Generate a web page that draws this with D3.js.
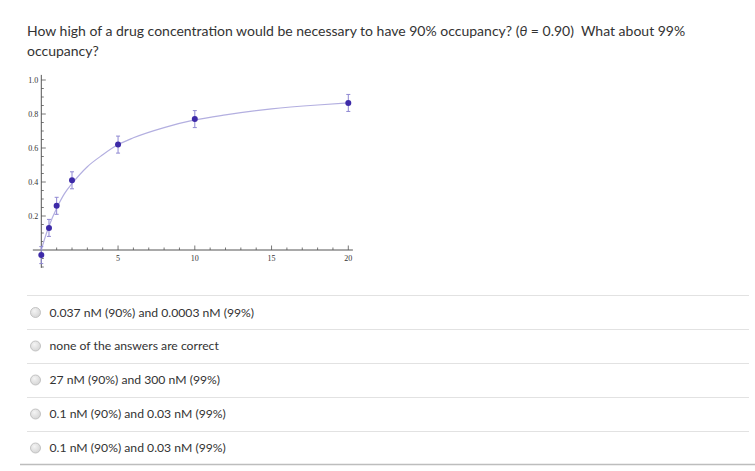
<!DOCTYPE html>
<html><head><meta charset="utf-8">
<script src="https://cdn.jsdelivr.net/npm/d3@7/dist/d3.min.js"></script>
<style>
html,body{margin:0;padding:0;background:#fff;}
svg{display:block;}
</style></head>
<body>
<svg id="c" width="755" height="471"></svg>
<script>
// ---- data ----
const questionLine1 = ["How high of a drug concentration would be necessary to have 90% occupancy? (", "\u03B8", " = 0.90)  What about 99%"];
const questionLine2 = "occupancy?";
const concentrations = [0, 0.5, 1, 2, 5, 10, 20];
const occupancy = [-0.03, 0.13, 0.26, 0.41, 0.62, 0.77, 0.865];
const errors = [0.05, 0.05, 0.05, 0.05, 0.05, 0.05, 0.05];
const curveX = [0, 0.25, 0.5, 1, 1.5, 2, 3, 4, 5, 6, 8, 10, 12, 15, 18, 20];
const curveY = [0, 0.075, 0.14, 0.245, 0.33, 0.39, 0.49, 0.56, 0.62, 0.66, 0.72, 0.765, 0.795, 0.83, 0.853, 0.865];
const xTickLabels = [5, 10, 15, 20];
const yTickLabels = [0.2, 0.4, 0.6, 0.8, 1.0];
const answers = [
  "0.037 nM (90%) and 0.0003 nM (99%)",
  "none of the answers are correct",
  "27 nM (90%) and 300 nM (99%)",
  "0.1 nM (90%) and 0.03 nM (99%)",
  "0.1 nM (90%) and 0.03 nM (99%)"
];

const svg = d3.select("#c");

// ---- question text ----
const t1 = svg.append("text").attr("x", 27).attr("y", 36)
  .attr("font-family","Lato").attr("font-size",14).attr("fill","#333")
  .attr("xml:space","preserve").style("white-space","pre");
t1.selectAll("tspan").data(questionLine1).join("tspan")
  .attr("font-style", (d,i)=> i===1 ? "italic" : null)
  .text(d=>d);
svg.append("text").attr("x", 27).attr("y", 56)
  .attr("font-family","Lato").attr("font-size",14).attr("fill","#333")
  .text(questionLine2);

// ---- chart ----
const x = d3.scaleLinear().domain([0, 20]).range([41.3, 348.3]);
const y = d3.scaleLinear().domain([0, 1]).range([250, 80]);
const g = svg.append("g");
const axisColor = "#555";
const serif = "'Liberation Serif','DejaVu Serif',serif";

// x axis line
g.append("line").attr("x1", x(-0.55)).attr("x2", x(20.3)).attr("y1", y(0)).attr("y2", y(0))
  .attr("stroke", axisColor).attr("stroke-width", 1);
// y axis line
g.append("line").attr("x1", x(0)).attr("x2", x(0)).attr("y1", y(-0.105)).attr("y2", y(1.03))
  .attr("stroke", axisColor).attr("stroke-width", 1);

// x ticks (Mathematica style, pointing up)
const xMinor = d3.range(1, 21).filter(v => v % 5 !== 0);
g.selectAll("line.xmin").data(xMinor).join("line")
  .attr("x1", d=>x(d)).attr("x2", d=>x(d)).attr("y1", y(0)).attr("y2", y(0)-2.5)
  .attr("stroke", axisColor).attr("stroke-width", 0.8);
g.selectAll("line.xmaj").data(xTickLabels).join("line")
  .attr("x1", d=>x(d)).attr("x2", d=>x(d)).attr("y1", y(0)).attr("y2", y(0)-4.5)
  .attr("stroke", axisColor).attr("stroke-width", 0.8);
g.selectAll("text.xl").data(xTickLabels).join("text")
  .attr("x", d=>x(d)).attr("y", y(0)+11).attr("text-anchor","middle")
  .attr("font-family", serif).attr("font-size", 8).attr("fill","#333")
  .text(d=>d);

// y ticks (pointing right)
const yMinor = d3.range(-0.1, 1.0001, 0.05).map(v=>+v.toFixed(2)).filter(v => Math.abs((v*100)%20) > 0.001 && v !== 0);
g.selectAll("line.ymin").data(yMinor).join("line")
  .attr("x1", x(0)).attr("x2", x(0)+2.5).attr("y1", d=>y(d)).attr("y2", d=>y(d))
  .attr("stroke", axisColor).attr("stroke-width", 0.8);
g.selectAll("line.ymaj").data(yTickLabels).join("line")
  .attr("x1", x(0)).attr("x2", x(0)+4.5).attr("y1", d=>y(d)).attr("y2", d=>y(d))
  .attr("stroke", axisColor).attr("stroke-width", 0.8);
g.selectAll("text.yl").data(yTickLabels).join("text")
  .attr("x", x(0)-3).attr("y", d=>y(d)+3).attr("text-anchor","end")
  .attr("font-family", serif).attr("font-size", 8).attr("fill","#333")
  .text(d=>d3.format(".1f")(d));

// fitted curve
const line = d3.line().x(d=>x(d[0])).y(d=>y(d[1])).curve(d3.curveMonotoneX);
g.append("path").datum(curveX.map((v,i)=>[v, curveY[i]]))
  .attr("d", line).attr("fill","none").attr("stroke","#b3afe0").attr("stroke-width",1.2);

// error bars
const pts = concentrations.map((c,i)=>({c, v: occupancy[i], e: errors[i]}));
const errColor = "#8f88d2";
const eb = g.selectAll("g.eb").data(pts).join("g");
eb.append("line").attr("x1", d=>x(d.c)).attr("x2", d=>x(d.c))
  .attr("y1", d=>y(d.v - d.e)).attr("y2", d=>y(d.v + d.e))
  .attr("stroke", errColor).attr("stroke-width", 1);
eb.append("line").attr("x1", d=>x(d.c)-2).attr("x2", d=>x(d.c)+2)
  .attr("y1", d=>y(d.v + d.e)).attr("y2", d=>y(d.v + d.e))
  .attr("stroke", errColor).attr("stroke-width", 1);
eb.append("line").attr("x1", d=>x(d.c)-2).attr("x2", d=>x(d.c)+2)
  .attr("y1", d=>y(d.v - d.e)).attr("y2", d=>y(d.v - d.e))
  .attr("stroke", errColor).attr("stroke-width", 1);

// points
g.selectAll("circle.pt").data(pts).join("circle")
  .attr("cx", d=>x(d.c)).attr("cy", d=>y(d.v)).attr("r", 3)
  .attr("fill", "#3d2aa8");

// ---- answer options ----
const rowY = [312.5, 346, 380, 414, 448];
const sepY = [295.5, 329.5, 363.5, 397.5, 431.5];
svg.selectAll("line.sep").data(sepY).join("line")
  .attr("x1", 27).attr("x2", 749).attr("y1", d=>d).attr("y2", d=>d)
  .attr("stroke", "#e2e2e2").attr("stroke-width", 1);
svg.append("line").attr("x1", 20).attr("x2", 755).attr("y1", 464.5).attr("y2", 464.5)
  .attr("stroke", "#bdbdbd").attr("stroke-width", 1.5);

const defs = svg.append("defs");
const grad = defs.append("radialGradient").attr("id","rg").attr("cx","40%").attr("cy","35%").attr("r","70%");
grad.append("stop").attr("offset","0%").attr("stop-color","#f4f4f4");
grad.append("stop").attr("offset","100%").attr("stop-color","#d4d4d4");

const rows = svg.selectAll("g.ans").data(answers).join("g").attr("class","ans");
rows.append("circle").attr("cx", 35.5).attr("cy", (d,i)=>rowY[i]).attr("r", 5)
  .attr("fill","url(#rg)").attr("stroke","#b8b8b8").attr("stroke-width",0.8);
rows.append("text").attr("x", 49.5).attr("y", (d,i)=>rowY[i]+4.2)
  .attr("font-family","Lato").attr("font-size",12.2).attr("fill","#333")
  .text(d=>d);
</script>
</body></html>
